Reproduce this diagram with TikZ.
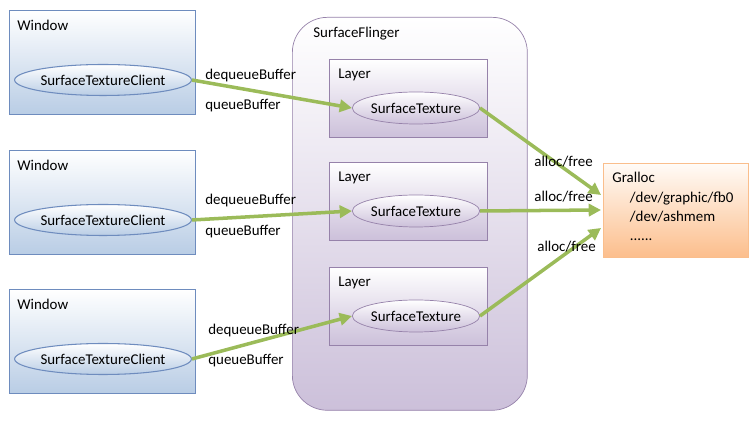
\documentclass[tikz,border=0pt]{standalone}
\usepackage{fontspec}
\setmainfont{Carlito}
\usetikzlibrary{arrows.meta,shapes.geometric}
\definecolor{winline}{RGB}{110,140,190}
\definecolor{winfill}{RGB}{185,205,229}
\definecolor{vline}{RGB}{150,130,170}
\definecolor{vfill}{RGB}{204,192,218}
\definecolor{flowgreen}{RGB}{155,187,89}
\definecolor{gline}{RGB}{250,190,140}
\definecolor{gfill}{RGB}{252,190,140}
\begin{document}
\begin{tikzpicture}[x=0.02cm,y=-0.02cm,font=\fontsize{8.5}{10}\selectfont,
  win/.style={draw=winline,top color=white,bottom color=winfill,minimum width=3.72cm,minimum height=2.08cm,inner sep=0pt},
  cli/.style={ellipse,draw=winline,line width=0.6pt,top color=white,bottom color=winfill,minimum width=3.5cm,minimum height=0.62cm,inner sep=0pt},
  lay/.style={draw=vline,top color=white,bottom color=vfill,minimum width=3.16cm,minimum height=1.56cm,inner sep=0pt},
  tex/.style={ellipse,draw=vline,top color=white,bottom color=vfill,minimum width=2.5cm,minimum height=0.64cm,inner sep=0pt},
  lbl/.style={anchor=north west,inner sep=0pt},
  flow/.style={-{Triangle[length=7pt,width=7pt]},draw=flowgreen,line width=2pt},
  ]
\useasboundingbox (0,0) rectangle (750,421);
% SurfaceFlinger
\node[draw=vline,rounded corners=0.7cm,top color=white,bottom color=vfill,minimum width=4.7cm,minimum height=7.86cm,anchor=north west,inner sep=0pt] (sf) at (292,17) {};
\node[lbl] (sfl) at (313,27) {SurfaceFlinger};
% windows
\foreach \i/\y in {1/10,2/150,3/289}{
  \node[win,anchor=north west] (w\i) at (9,\y) {};
  \node[lbl] (wl\i) at (17,\y+10) {Window};
  \node[cli] (c\i) at (103,\y+70) {SurfaceTextureClient};
}
% layers
\foreach \i/\y in {1/59,2/162,3/267}{
  \node[lay,anchor=north west] (l\i) at (329,\y) {};
  \node[lbl] (ll\i) at (338,\y+10) {Layer};
  \node[tex] (t\i) at (416,\y+49) {SurfaceTexture};
}
% gralloc
\node[draw=gline,top color=orange!3,bottom color=gfill,minimum width=2.9cm,minimum height=1.88cm,anchor=north west,inner sep=0pt] (g) at (603,163) {};
\node[lbl,align=left] (gt) at (612,172) {Gralloc\\[1pt]\hspace{10pt}/dev/graphic/fb0\\[1pt]\hspace{10pt}/dev/ashmem\\[1pt]\hspace{10pt}......};
\coordinate (g1) at (601,195);
\coordinate (g2) at (601,210);
\coordinate (g3) at (601,228);
% flows
\draw[flow] (c1.east) -- (t1.west);
\draw[flow] (c2.east) -- (t2.west);
\draw[flow] (c3.east) -- (t3.west);
\draw[flow] (t1.east) -- (g1);
\draw[flow] (t2.east) -- (g2);
\draw[flow] (t3.east) -- (g3);
% labels
\foreach \y/\z/\x in {69/99/205,194/225/205,324/354/208}{
  \node[lbl] at (\x,\y) {dequeueBuffer};
  \node[lbl] at (\x,\z) {queueBuffer};
}
\node[lbl] (a1) at (534,156) {alloc/free};
\node[lbl] (a2) at (534,191) {alloc/free};
\node[lbl] (a3) at (537,241) {alloc/free};
\end{tikzpicture}
\end{document}
